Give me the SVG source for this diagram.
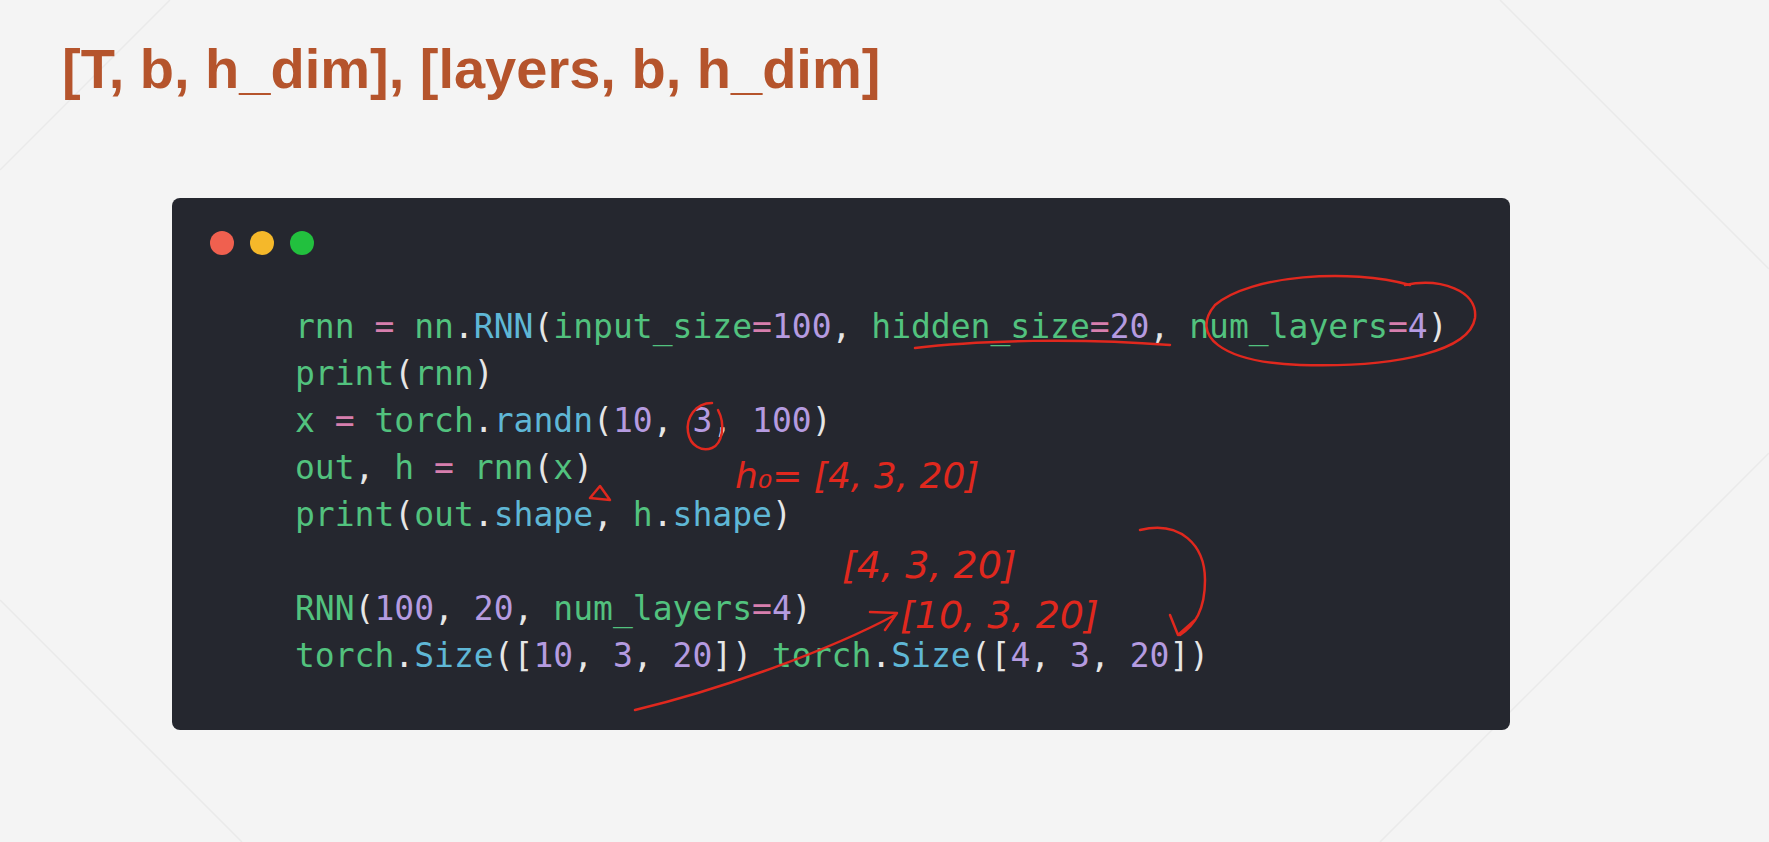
<svg xmlns="http://www.w3.org/2000/svg" width="1769" height="842" viewBox="0 0 1769 842">
<style>
.c{font-family:"DejaVu Sans Mono","Liberation Mono",monospace;font-size:33px;fill:#e6e6e6;white-space:pre}
.g{fill:#52c27e}.b{fill:#5fb7d6}.p{fill:#b59be0}.k{fill:#d77fae}
.r{fill:none;stroke:#e0281e;stroke-width:2.5;stroke-linecap:round;stroke-linejoin:round}
.h{font-family:"DejaVu Sans","Liberation Sans",sans-serif;fill:#e0281e;font-style:italic}
</style>
<rect width="1769" height="842" fill="#f4f4f4"/>
<g stroke="#eaeaea" stroke-width="1.5" fill="none">
<path d="M0 170L170 0M1380 842L1769 453M1500 0L1769 269M0 600L242 842"/>
</g>
<text x="62" y="88" font-family="Liberation Sans,Arial,sans-serif" font-weight="bold" font-size="56" fill="#b5542c">[T, b, h_dim], [layers, b, h_dim]</text>
<g id="window">
<rect x="172" y="198" width="1338" height="532" rx="8" fill="#25272f"/>
<circle cx="222" cy="243" r="12" fill="#f0604f"/>
<circle cx="262" cy="243" r="12" fill="#f5b82a"/>
<circle cx="302" cy="243" r="12" fill="#22c03e"/>
</g>
<g id="code">
<text class="c" x="295" y="338"><tspan class="g">rnn</tspan> <tspan class="k">=</tspan> <tspan class="g">nn</tspan>.<tspan class="b">RNN</tspan>(<tspan class="g">input_size</tspan><tspan class="k">=</tspan><tspan class="p">100</tspan>, <tspan class="g">hidden_size</tspan><tspan class="k">=</tspan><tspan class="p">20</tspan>, <tspan class="g">num_layers</tspan><tspan class="k">=</tspan><tspan class="p">4</tspan>)</text>
<text class="c" x="295" y="385"><tspan class="g">print</tspan>(<tspan class="g">rnn</tspan>)</text>
<text class="c" x="295" y="432"><tspan class="g">x</tspan> <tspan class="k">=</tspan> <tspan class="g">torch</tspan>.<tspan class="b">randn</tspan>(<tspan class="p">10</tspan>, <tspan class="p">3</tspan>, <tspan class="p">100</tspan>)</text>
<text class="c" x="295" y="479"><tspan class="g">out</tspan>, <tspan class="g">h</tspan> <tspan class="k">=</tspan> <tspan class="g">rnn</tspan>(<tspan class="g">x</tspan>)</text>
<text class="c" x="295" y="526"><tspan class="g">print</tspan>(<tspan class="g">out</tspan>.<tspan class="b">shape</tspan>, <tspan class="g">h</tspan>.<tspan class="b">shape</tspan>)</text>
<text class="c" x="295" y="620"><tspan class="g">RNN</tspan>(<tspan class="p">100</tspan>, <tspan class="p">20</tspan>, <tspan class="g">num_layers</tspan><tspan class="k">=</tspan><tspan class="p">4</tspan>)</text>
<text class="c" x="295" y="667"><tspan class="g">torch</tspan>.<tspan class="b">Size</tspan>([<tspan class="p">10</tspan>, <tspan class="p">3</tspan>, <tspan class="p">20</tspan>]) <tspan class="g">torch</tspan>.<tspan class="b">Size</tspan>([<tspan class="p">4</tspan>, <tspan class="p">3</tspan>, <tspan class="p">20</tspan>])</text>
</g>
<g id="annotations">
<path class="r" d="M915 348C980 340 1080 338 1170 345"/>
<path class="r" d="M1410 285C1350 268 1250 275 1215 305C1190 335 1220 362 1300 365C1400 368 1470 350 1475 318C1478 290 1440 278 1405 285"/>
<path class="r" d="M712 403C695 403 686 418 688 432C690 446 702 452 712 448C722 444 726 425 718 410"/>
<path class="r" d="M590 498L600 486L610 500Z"/>
<path class="r" d="M1140 530C1180 520 1205 545 1205 580C1205 610 1195 625 1180 635M1170 615L1178 635L1195 620"/>
<path class="r" d="M635 710C720 690 830 650 895 615M870 612L897 613L885 630"/>
<text class="h" x="735" y="488" font-size="36">h₀= [4, 3, 20]</text>
<text class="h" x="842" y="578" font-size="38">[4, 3, 20]</text>
<text class="h" x="900" y="628" font-size="38">[10, 3, 20]</text>
</g>
</svg>
